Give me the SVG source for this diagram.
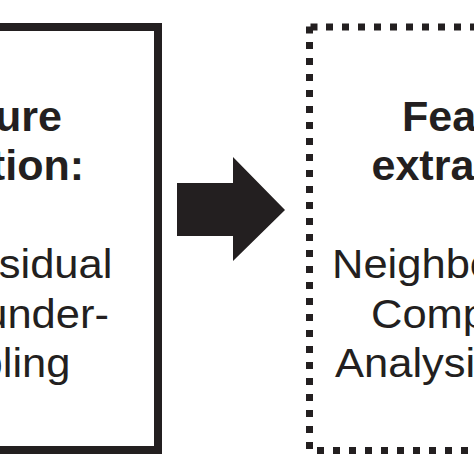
<svg xmlns="http://www.w3.org/2000/svg" width="474" height="474" viewBox="0 0 474 474">
  <style>
    .ink { fill: #231f20; }
    .title { font-family: "Liberation Sans", Arial, sans-serif; font-weight: bold; font-size: 42px; fill: #231f20; }
    .body { font-family: "Liberation Sans", Arial, sans-serif; font-size: 40.5px; fill: #231f20; }
    .dots { fill: none; stroke: #231f20; stroke-width: 7; stroke-dasharray: 7 9; }
  </style>
  <rect width="474" height="474" fill="#ffffff"/>
  <g id="node-selection">
    <rect x="-190" y="27" width="348" height="423" fill="#ffffff" stroke="#231f20" stroke-width="8"/>
    <g transform="scale(1.025,1)">
      <text class="title" x="60.5" y="131" text-anchor="end">Feature</text>
      <text class="title" x="82" y="180" text-anchor="end">selection:</text>
    </g>
    <g transform="scale(1.075,1)">
      <text class="body" x="104.6" y="278" text-anchor="end">Residual</text>
      <text class="body" x="101.4" y="328" text-anchor="end">under-</text>
      <text class="body" x="65.6" y="377" text-anchor="end">sampling</text>
    </g>
  </g>
  <g id="connectors">
    <polygon class="ink" points="177,183 233,183 233,157 285,210 233,261 233,236 177,236"/>
  </g>
  <g id="node-extraction">
    <line class="dots" x1="326" y1="27" x2="480" y2="27"/>
    <line class="dots" x1="309.5" y1="42" x2="309.5" y2="450"/>
    <line class="dots" x1="317" y1="450.5" x2="480" y2="450.5"/>
    <rect class="ink" x="310.5" y="23.5" width="7" height="7"/>
    <rect class="ink" x="306" y="26.5" width="7" height="7"/>
    <g transform="scale(1.025,1)">
      <text class="title" x="392.2" y="131">Feature</text>
      <text class="title" x="362.4" y="180">extraction:</text>
    </g>
    <g transform="scale(1.075,1)">
      <text class="body" x="308.8" y="278">Neighborhood</text>
      <text class="body" x="345.1" y="328">Component</text>
      <text class="body" x="311.6" y="377">Analysis</text>
    </g>
  </g>
</svg>
